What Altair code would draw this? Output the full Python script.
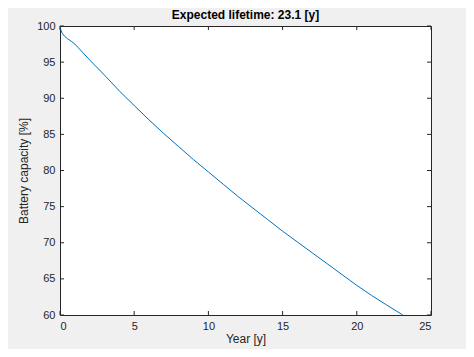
import altair as alt
import pandas as pd

years = [0, 0.05, 0.15, 0.3, 0.5, 0.75, 1, 2, 3, 4, 5, 6, 7, 8, 9, 10, 11, 12,
         13, 14, 15, 16, 17, 18, 19, 20, 21, 22, 23.1]
capacity = [100, 99.5, 99.0, 98.6, 98.25, 97.9, 97.5, 95.3, 93.2, 91.0, 89.0,
            87.0, 85.1, 83.3, 81.5, 79.8, 78.1, 76.4, 74.8, 73.2, 71.6, 70.1,
            68.6, 67.1, 65.6, 64.1, 62.7, 61.4, 60.0]
x_ticks = [0, 5, 10, 15, 20, 25]
y_ticks = [60, 65, 70, 75, 80, 85, 90, 95, 100]
title_text = "Expected lifetime: 23.1 [y]"
x_title = "Year [y]"
y_title = "Battery capacity [%]"

df = pd.DataFrame({"year": years, "capacity": capacity})
xt = pd.DataFrame({"t": x_ticks})
yt = pd.DataFrame({"t": y_ticks})

W, H = 371, 289
TL = 4
AX = "#262626"
FONT = "Liberation Sans"

xscale = alt.Scale(domain=[0, 25], nice=False, zero=False)
yscale = alt.Scale(domain=[60, 100], nice=False, zero=False)

xaxis = alt.Axis(title=x_title, values=x_ticks, ticks=False, domain=False,
                 grid=False, labelPadding=5, titlePadding=2,
                 labelFontSize=11, titleFontSize=12, labelColor=AX,
                 titleColor=AX, titleFontWeight="normal", labelFont=FONT,
                 titleFont=FONT)
yaxis = alt.Axis(title=y_title, values=y_ticks, ticks=False, domain=False,
                 grid=False, labelPadding=5, titlePadding=6,
                 labelFontSize=11, titleFontSize=12, labelColor=AX,
                 titleColor=AX, titleFontWeight="normal", labelFont=FONT,
                 titleFont=FONT)

line = alt.Chart(df).mark_line(color="#0072BD", strokeWidth=1).encode(
    x=alt.X("year:Q", scale=xscale, axis=xaxis),
    y=alt.Y("capacity:Q", scale=yscale, axis=yaxis),
)

tick_color = AX
xb = alt.Chart(xt).mark_rule(color=tick_color, strokeWidth=1).encode(
    x=alt.X("t:Q", scale=xscale, axis=xaxis), y=alt.value(H), y2=alt.value(H - TL))
xtop = alt.Chart(xt).mark_rule(color=tick_color, strokeWidth=1).encode(
    x=alt.X("t:Q", scale=xscale, axis=xaxis), y=alt.value(0), y2=alt.value(TL))
yl = alt.Chart(yt).mark_rule(color=tick_color, strokeWidth=1).encode(
    y=alt.Y("t:Q", scale=yscale, axis=yaxis), x=alt.value(0), x2=alt.value(TL))
yr = alt.Chart(yt).mark_rule(color=tick_color, strokeWidth=1).encode(
    y=alt.Y("t:Q", scale=yscale, axis=yaxis), x=alt.value(W), x2=alt.value(W - TL))

chart = alt.layer(line, xb, xtop, yl, yr).properties(
    width=W, height=H,
    title=alt.TitleParams(title_text, fontSize=12, fontWeight="bold", font=FONT,
                          color="#000000", anchor="middle", offset=-2),
    background="#f0f0f0",
    autosize=alt.AutoSizeParams(type="none"),
    padding={"left": 52, "top": 18, "right": 35, "bottom": 34},
).configure_view(fill="white", stroke=AX, strokeWidth=1)

chart.save("out.html", embed_options={"renderer": "svg", "actions": False})
